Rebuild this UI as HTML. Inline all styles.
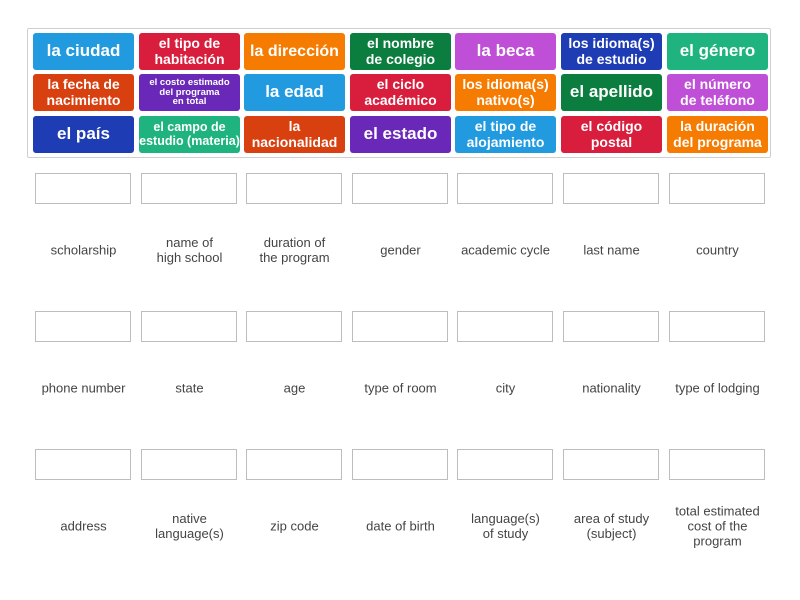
<!DOCTYPE html>
<html><head><meta charset="utf-8"><style>
body{margin:0;width:800px;height:600px;background:#fff;font-family:"Liberation Sans",sans-serif;position:relative;overflow:hidden}
#bank{position:absolute;left:27px;top:28px;width:744px;height:130px;border:1px solid #cfcfcf;border-radius:2px;box-sizing:border-box}
.tile{position:absolute;width:101px;height:37px;border-radius:3px;color:#fff;display:flex;align-items:center;justify-content:center;text-align:center;font-weight:bold;line-height:1.1;cursor:grab;white-space:nowrap}
.f1{font-size:17px}.f2{font-size:14px}.f3{font-size:9.5px;line-height:1.05}
.box{position:absolute;width:96px;height:31px;border:1px solid #bdbdbd;box-sizing:border-box;background:#fff}
.lbl{position:absolute;width:106px;text-align:center;font-size:13px;color:#444;line-height:15px;transform:translateY(-50%)}
.c1{background:#219ae0}.c2{background:#d81e3c}.c3{background:#f57c00}.c4{background:#0b7d3e}.c5{background:#bf4fd6}.c6{background:#1e3db5}.c7{background:#1fb380}.c8{background:#d8400f}.c9{background:#6a28b8}
</style></head><body>
<div id="bank"></div>
<div id="root"></div>
<script>
const xs=[33,139,244,350,455,561,667];
const tiles=[
[["la ciudad","c1",1],["el tipo de<br>habitación","c2",2],["la dirección","c3",1],["el nombre<br>de colegio","c4",2],["la beca","c5",1],["los idioma(s)<br>de estudio","c6",2],["el género","c7",1]],
[["la fecha de<br>nacimiento","c8",2],["el costo estimado<br>del programa<br>en total","c9",3],["la edad","c1",1],["el ciclo<br>académico","c2",2],["los idioma(s)<br>nativo(s)","c3",2],["el apellido","c4",1],["el número<br>de teléfono","c5",2]],
[["el país","c6",1],["el campo de<br>estudio (materia)","c7",2],["la<br>nacionalidad","c8",2],["el estado","c9",1],["el tipo de<br>alojamiento","c1",2],["el código<br>postal","c2",2],["la duración<br>del programa","c3",2]]];
const labels=[
["scholarship","name of<br>high school","duration of<br>the program","gender","academic cycle","last name","country"],
["phone number","state","age","type of room","city","nationality","type of lodging"],
["address","native<br>language(s)","zip code","date of birth","language(s)<br>of study","area of study<br>(subject)","total estimated<br>cost of the<br>program"]];
const root=document.getElementById('root');
const ty=[33,74,116];
tiles.forEach((row,r)=>row.forEach((t,c)=>{
 const d=document.createElement('div');
 d.className='tile '+t[1]+' f'+t[2];
 d.style.left=xs[c]+'px';d.style.top=ty[r]+'px';
 if(t[2]==2&&c==1&&r==2)d.style.fontSize='12.5px';
 if(t[0]=="la dirección")d.style.fontSize='16px';
 d.innerHTML=t[0];
 
 
 root.appendChild(d);
}));
const by=[173,311,449],ly=[250,388,526];
labels.forEach((row,r)=>row.forEach((l,c)=>{
 const b=document.createElement('div');
 b.className='box';b.style.left=(xs[c]+2)+'px';b.style.top=by[r]+'px';
 
 
 root.appendChild(b);
 const t=document.createElement('div');
 t.className='lbl';t.style.left=(xs[c]-2.5)+'px';t.style.top=ly[r]+'px';
 t.innerHTML=l;
 
 
 root.appendChild(t);
}));
</script>
</body></html>
